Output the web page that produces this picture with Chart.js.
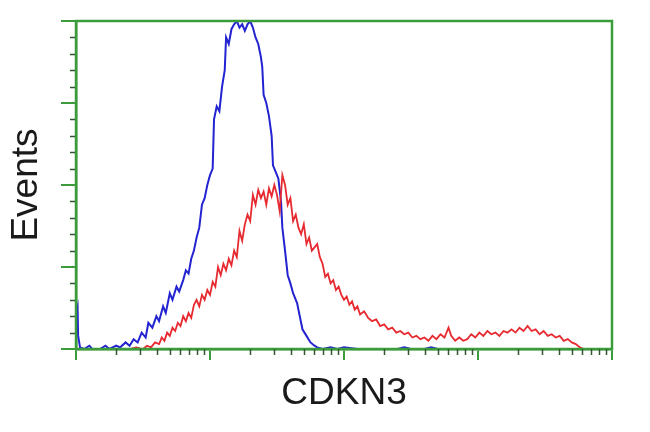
<!DOCTYPE html>
<html>
<head>
<meta charset="utf-8">
<script src="https://cdn.jsdelivr.net/npm/chart.js@4/dist/chart.umd.min.js"></script>
<style>
html,body{margin:0;padding:0;background:#fff;}
#wrap{width:650px;height:432px;}
</style>
</head>
<body>
<div id="wrap"><canvas id="c" width="650" height="432"></canvas></div>
<script>
// x values are log10 decades of CDKN3 intensity (0..4), y values are event counts
const blueX = [0.00,0.012,0.016,0.03,0.06,0.10,0.12,0.18,0.22,0.25,0.30,0.33,0.37,0.40,0.43,0.46,0.49,0.52,0.54,0.57,0.60,0.62,0.65,0.67,0.70,0.72,0.75,0.77,0.80,0.82,0.84,0.86,0.88,0.90,0.92,0.94,0.96,0.98,1.00,1.02,1.03,1.05,1.07,1.09,1.11,1.12,1.14,1.16,1.18,1.20,1.22,1.24,1.26,1.28,1.30,1.32,1.34,1.36,1.38,1.39,1.40,1.42,1.44,1.46,1.47,1.49,1.51,1.53,1.54,1.56,1.58,1.60,1.62,1.65,1.67,1.69,1.72,1.75,1.78,1.80,1.84,1.90,1.95,2.00,2.10,2.40,2.45,2.50,2.60,2.65,2.70];
const blueY = [20,25,8,1,0,2,0,0,2,0,2,1,4,2,6,4,10,7,16,13,20,17,26,22,34,30,38,35,42,48,46,55,60,68,74,88,92,100,106,110,140,148,145,160,170,190,186,195,198,200,196,198,194,198,200,196,190,186,178,172,155,150,142,130,112,108,104,90,74,60,45,40,34,28,20,12,8,4,2,1,0,1,0,1,0,0,1,0,0,1,0];

const redX = [0.40,0.45,0.50,0.53,0.56,0.59,0.62,0.64,0.66,0.68,0.70,0.72,0.74,0.76,0.78,0.80,0.82,0.84,0.86,0.88,0.90,0.92,0.94,0.96,0.98,1.00,1.02,1.04,1.06,1.08,1.10,1.12,1.14,1.16,1.18,1.20,1.22,1.24,1.26,1.28,1.30,1.32,1.34,1.36,1.38,1.40,1.42,1.44,1.46,1.48,1.50,1.52,1.54,1.56,1.58,1.60,1.62,1.64,1.66,1.68,1.70,1.72,1.74,1.76,1.78,1.80,1.82,1.84,1.86,1.88,1.90,1.92,1.94,1.96,1.98,2.00,2.02,2.04,2.06,2.08,2.10,2.12,2.15,2.18,2.21,2.24,2.27,2.30,2.33,2.36,2.39,2.42,2.45,2.48,2.51,2.54,2.57,2.60,2.63,2.66,2.69,2.72,2.75,2.78,2.80,2.83,2.86,2.89,2.92,2.95,2.98,3.01,3.04,3.07,3.10,3.13,3.16,3.19,3.22,3.25,3.28,3.31,3.34,3.37,3.40,3.43,3.46,3.49,3.52,3.55,3.58,3.61,3.64,3.67,3.70,3.73,3.76,3.79];
const redY = [0,1,0,2,1,4,3,7,5,10,8,13,11,16,14,20,17,22,19,27,30,26,33,30,36,33,41,38,50,45,52,48,55,51,60,56,72,66,76,82,78,94,88,97,92,96,88,98,93,100,94,84,106,100,88,92,78,82,74,70,76,64,68,60,62,64,56,52,44,46,40,42,36,38,33,30,32,27,29,24,26,21,23,19,17,18,14,15,12,13,10,11,9,10,7,8,6,7,5,8,6,9,7,13,8,5,7,5,6,9,7,10,8,11,9,10,8,11,10,12,10,13,11,14,11,12,9,11,8,9,7,8,5,6,4,3,1,0];

const majorX = [0,1,2,3,4];
const majorY = [0,50,100,150,200];
const xTitle = 'CDKN3';
const yTitle = 'Events';

const GREEN = '#3c9c3c';
const TICKDARK = '#335533';

const toPts = (xs, ys) => xs.map((x, i) => ({x: x, y: ys[i]}));

const minorPlugin = {
  id: 'minorTicks',
  afterDraw(chart) {
    const ctx = chart.ctx;
    const xs = chart.scales.x, ys = chart.scales.y;
    const ca = chart.chartArea;
    ctx.save();
    ctx.strokeStyle = GREEN;
    ctx.lineWidth = 2.5;
    ctx.strokeRect(ca.left, ca.top, ca.right - ca.left, ca.bottom - ca.top);
    ctx.strokeStyle = TICKDARK;
    ctx.lineWidth = 1.5;
    for (let d = 0; d < 4; d++) {
      for (let k = 2; k <= 9; k++) {
        const px = Math.round(xs.getPixelForValue(d + Math.log10(k))) + 0.5;
        ctx.beginPath();
        ctx.moveTo(px, ca.bottom);
        ctx.lineTo(px, ca.bottom + 6);
        ctx.stroke();
      }
    }
    for (let v = 10; v < 200; v += 10) {
      if (v % 50 === 0) continue;
      const py = Math.round(ys.getPixelForValue(v)) + 0.5;
      ctx.beginPath();
      ctx.moveTo(ca.left - 6, py);
      ctx.lineTo(ca.left - 1, py);
      ctx.stroke();
    }
    ctx.restore();
  }
};

new Chart(document.getElementById('c'), {
  type: 'line',
  data: {
    datasets: [
      {data: toPts(redX, redY), borderColor: '#e62a30', borderWidth: 1.8, pointRadius: 0, tension: 0, fill: false},
      {data: toPts(blueX, blueY), borderColor: '#2323d2', borderWidth: 2, pointRadius: 0, tension: 0, fill: false}
    ]
  },
  options: {
    responsive: false,
    animation: false,
    devicePixelRatio: 1,
    layout: {padding: {top: 21, right: 38, left: 0, bottom: 0}},
    plugins: {legend: {display: false}, tooltip: {enabled: false}},
    scales: {
      x: {
        type: 'linear', min: 0, max: 4,
        afterBuildTicks(s) { s.ticks = majorX.map(v => ({value: v})); },
        afterFit(s) { s.height = 83; },
        grid: {drawOnChartArea: false, drawTicks: true, tickLength: 11, color: GREEN, lineWidth: 2},
        border: {display: true, color: GREEN, width: 2.5},
        ticks: {display: false},
        title: {display: true, text: xTitle, color: '#1a1a1a',
          font: {family: 'Liberation Sans, Arial, sans-serif', size: 37, lineHeight: 1},
          padding: {top: 0, bottom: 20}}
      },
      y: {
        type: 'linear', min: 0, max: 200,
        afterBuildTicks(s) { s.ticks = majorY.map(v => ({value: v})); },
        afterFit(s) { s.width = 76; },
        grid: {drawOnChartArea: false, drawTicks: true, tickLength: 15, color: GREEN, lineWidth: 2},
        border: {display: true, color: GREEN, width: 2.5},
        ticks: {display: false},
        title: {display: true, text: yTitle, color: '#1a1a1a',
          font: {family: 'Liberation Sans, Arial, sans-serif', size: 37, lineHeight: 1},
          padding: {top: 8, bottom: 0}}
      }
    }
  },
  plugins: [minorPlugin]
});
</script>
</body>
</html>
